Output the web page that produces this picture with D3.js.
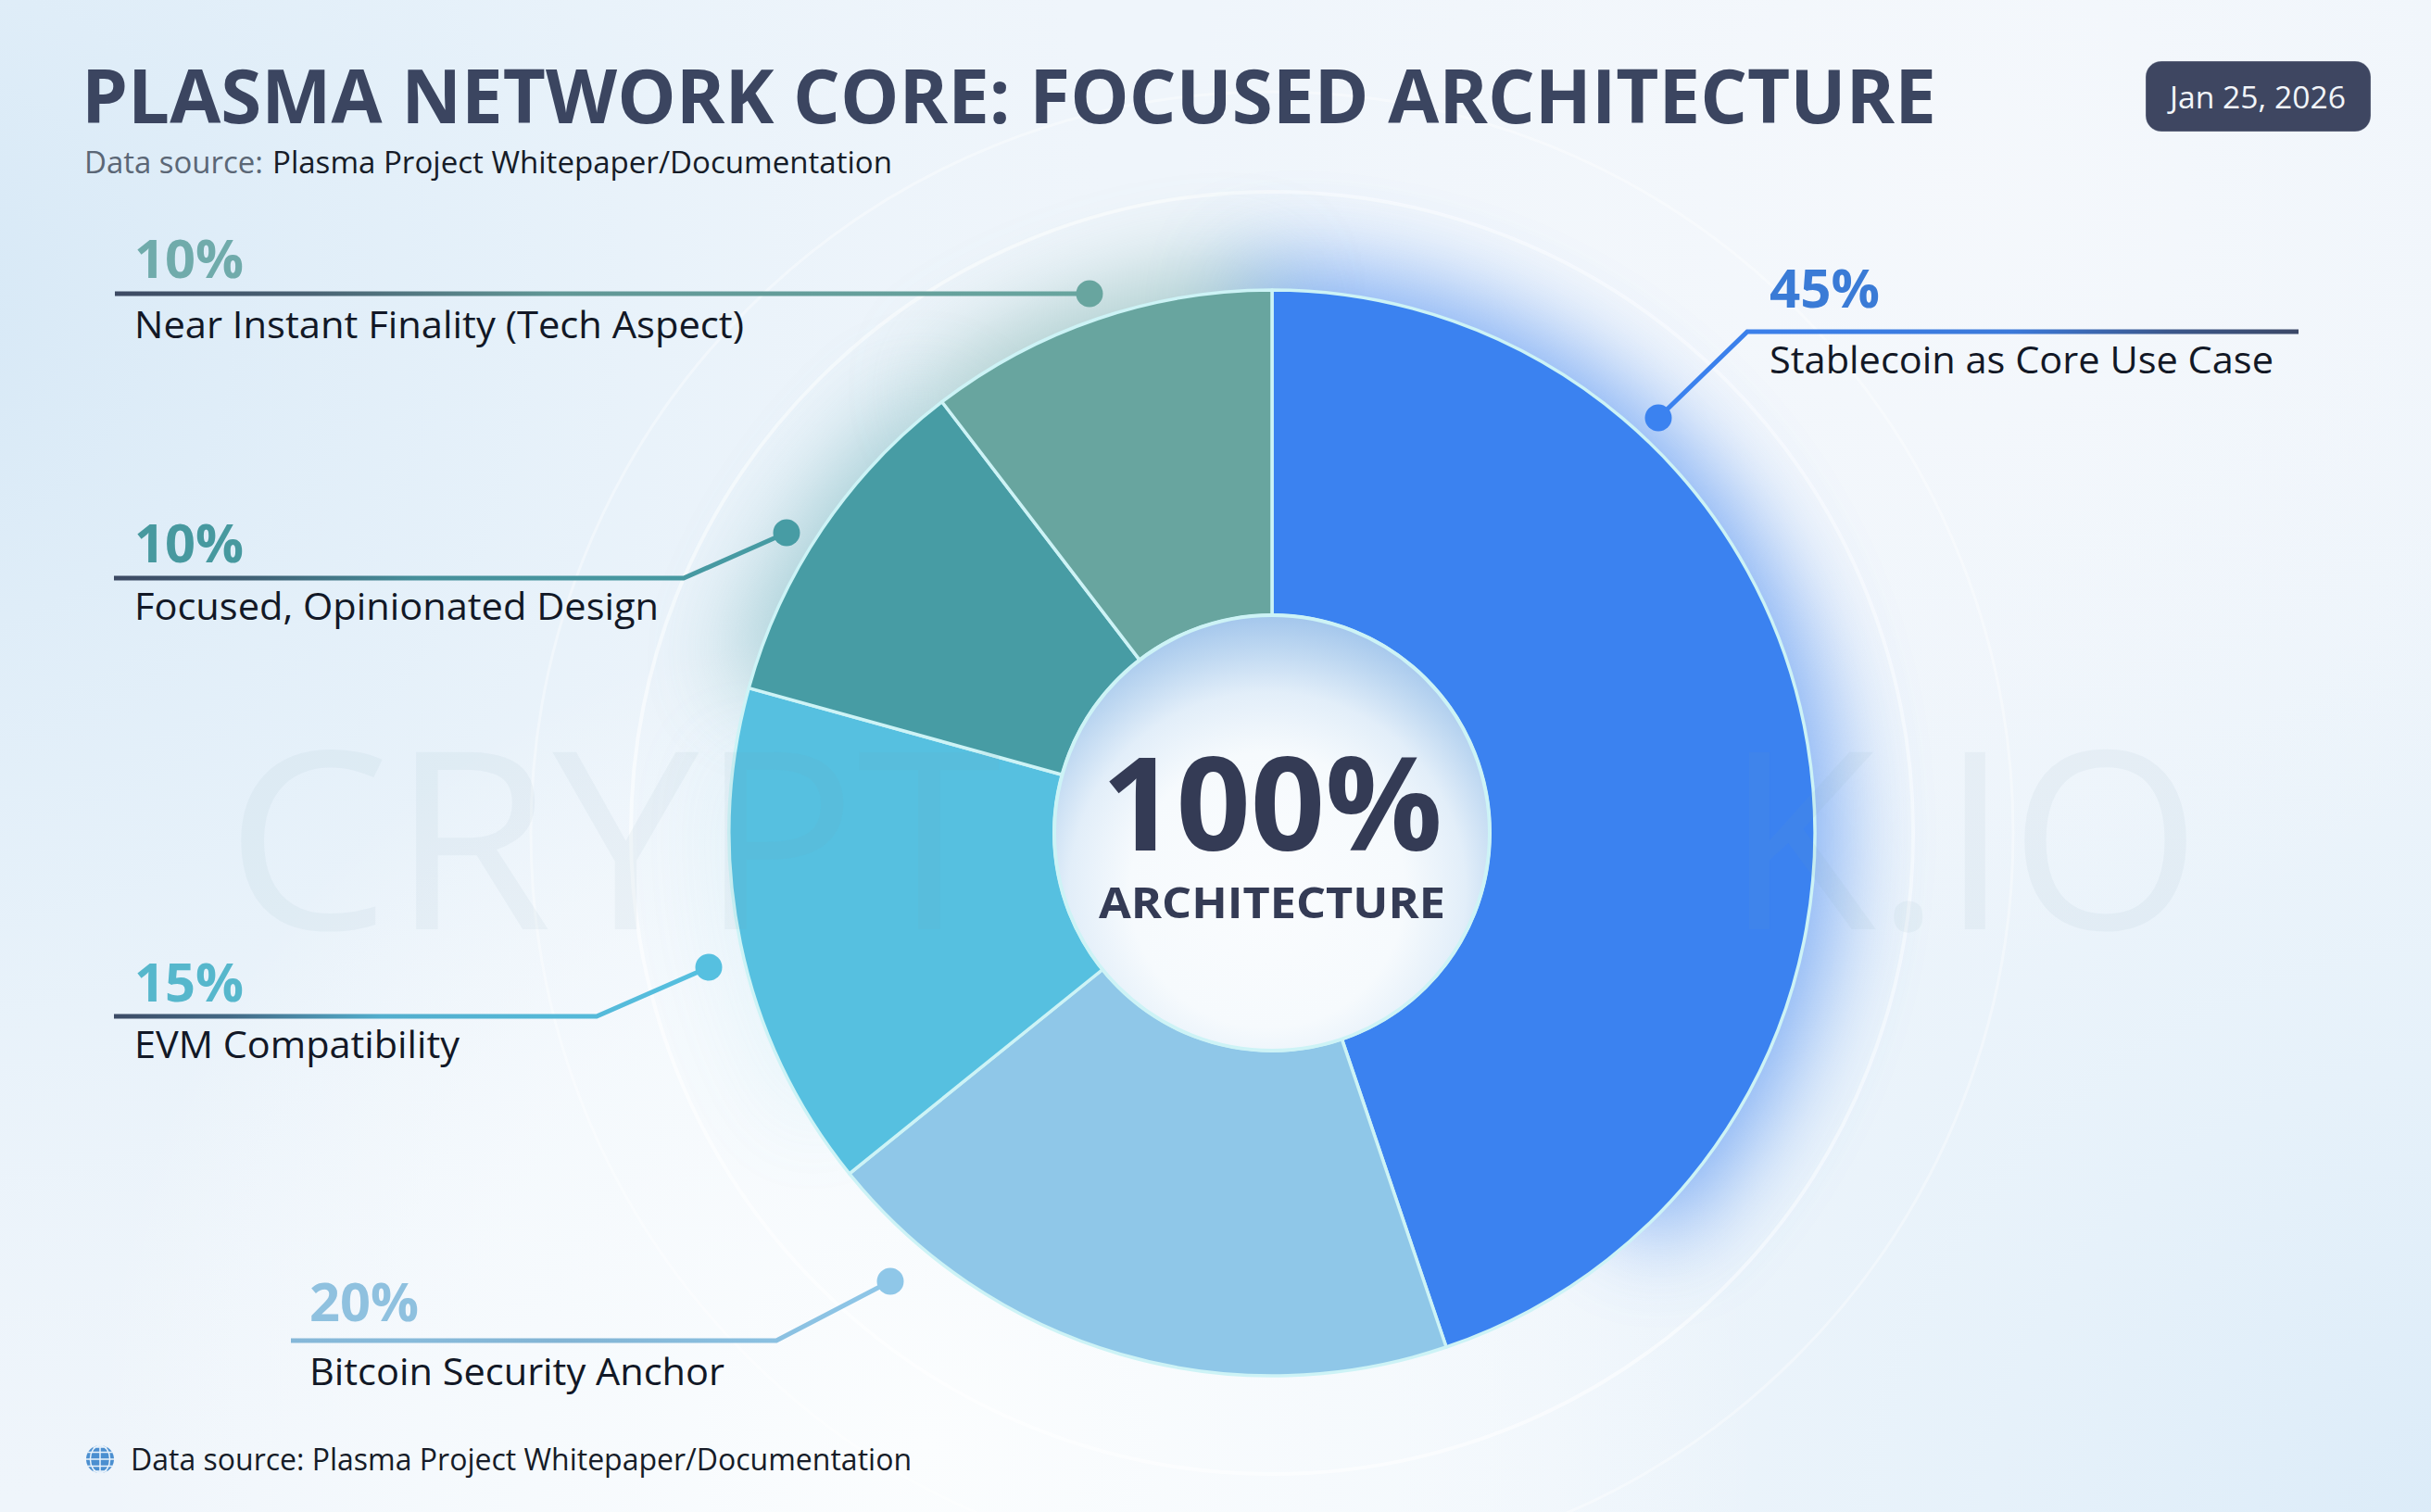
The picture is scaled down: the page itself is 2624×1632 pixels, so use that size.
<!DOCTYPE html>
<html><head><meta charset="utf-8">
<script src="https://cdn.jsdelivr.net/npm/d3@7/dist/d3.min.js"></script>
<style>html,body{margin:0;padding:0;background:#eef5fb}svg{display:block}text{font-family:"Open Sans",sans-serif}</style>
</head><body><div id="chart"></div>
<script>
// ---- data ----
const categories = ["Stablecoin as Core Use Case","Bitcoin Security Anchor","EVM Compatibility","Focused, Opinionated Design","Near Instant Finality (Tech Aspect)"];
const shares = [45,20,15,10,10];              // as printed on the labels
const drawnShares = [44.8,19.4,15.1,10.3,10.4]; // slice extents
const titleText = "PLASMA NETWORK CORE: FOCUSED ARCHITECTURE";
const sourceLead = "Data source:";
const sourceName = "Plasma Project Whitepaper/Documentation";
const dateText = "Jan 25, 2026";
const centerValue = "100%";
const centerLabel = "ARCHITECTURE";
const watermarkLeft = "CRYPT";
const watermarkRight = "K.IO";

// ---- styles and layout (kept apart from the data) ----
const W=2624,H=1632,cx=1373,cy=899,rOuter=586,rInner=235;
const sliceColors=["#3b82f0","#8fc7e8","#56c0e0","#479ca4","#68a59f"];
const textColors=["#3a7bd6","#8fc1df","#56b7cc","#47999f","#70abab"];
const glow=[.62,0,.08,.42,.5];
const glowTrim=[[-.06,-.42],[0,0],[.1,-.1],[0,0],[0,0]];
const ink="#3b4560", inkDark="#343b55";
const callouts=[
 {dot:[1790,451],elbow:[1886,358],end:[2481,358],x:1910,pctY:332,pctW:119,labY:403,labW:544},
 {dot:[961,1383],elbow:[838,1447],end:[314,1447],x:334,pctY:1426,pctW:118,labY:1495,labW:448},
 {dot:[765,1044],elbow:[644,1097],end:[123,1097],x:145,pctY:1081,pctW:118,labY:1142,labW:351},
 {dot:[849,575],elbow:[738,624],end:[123,624],x:145,pctY:607,pctW:118,labY:669,labW:566},
 {dot:[1176,317],elbow:[1176,317],end:[124,317],x:145,pctY:300,pctW:118,labY:365,labW:658}
];

const svg=d3.select("#chart").append("svg").attr("width",W).attr("height",H).attr("viewBox",`0 0 ${W} ${H}`);
const defs=svg.append("defs");

function radial(id,c,r,stops){
  const g=defs.append("radialGradient").attr("id",id).attr("gradientUnits","userSpaceOnUse")
    .attr("cx",c[0]).attr("cy",c[1]).attr("r",r);
  stops.forEach(s=>g.append("stop").attr("offset",s[0]).attr("stop-color",s[1]).attr("stop-opacity",s[2]));
}
// background layers
svg.append("rect").attr("width",W).attr("height",H).attr("fill","#eff5fb");
radial("bgL",[-100,330],1300,[[0,"#d6e8f6",1],[.5,"#e2eff9",.75],[1,"#eaf3fa",0]]);
radial("bgBR",[2700,1700],1350,[[0,"#d9eaf8",1],[.5,"#e5f1fa",.7],[1,"#eaf3fb",0]]);
radial("bgB",[1000,1560],900,[[0,"#fbfdfe",1],[.6,"#f9fcfe",.6],[1,"#fafcfe",0]]);
radial("bgT",[2100,200],850,[[0,"#f5f8fc",.95],[1,"#f5f8fc",0]]);
["bgL","bgBR","bgB","bgT"].forEach(id=>svg.append("rect").attr("width",W).attr("height",H).attr("fill",`url(#${id})`));

// faint rings
[[692,.55,4],[800,.38,3]].forEach(([r,o,w])=>svg.append("circle").attr("cx",cx).attr("cy",cy).attr("r",r)
  .attr("fill","none").attr("stroke","#ffffff").attr("stroke-opacity",o).attr("stroke-width",w));

// donut
const pieGen=d3.pie().sort(null).startAngle(0).endAngle(2*Math.PI)(drawnShares);
const arc=d3.arc().innerRadius(rInner).outerRadius(rOuter);
const donut=svg.append("g").attr("transform",`translate(${cx},${cy})`);
defs.append("filter").attr("id","blur").attr("x","-60%").attr("y","-60%").attr("width","220%").attr("height","220%")
  .attr("color-interpolation-filters","sRGB")
  .append("feGaussianBlur").attr("stdDeviation",48);
const glowArc=d3.arc().innerRadius(rInner).outerRadius(rOuter+26);
donut.selectAll("path.glow").data(pieGen).join("path").attr("class","glow")
  .attr("d",(d,i)=>glowArc({startAngle:d.startAngle+glowTrim[i][0],endAngle:d.endAngle+glowTrim[i][1]}))
  .attr("fill",(d,i)=>sliceColors[i]).attr("opacity",(d,i)=>glow[i]).attr("filter","url(#blur)");
donut.selectAll("path.slice").data(pieGen).join("path").attr("class","slice")
  .attr("d",arc).attr("fill",(d,i)=>sliceColors[i])
  .attr("stroke","#cdf3f6").attr("stroke-width",3.5).attr("stroke-linejoin","round");

// centre hole (gradient lies in the donut group's own coordinates)
const hole=defs.append("radialGradient").attr("id","hole").attr("gradientUnits","userSpaceOnUse")
  .attr("cx",-5).attr("cy",62).attr("r",rInner+62);
[[0,"#fafcfe"],[.5,"#f6fafd"],[.72,"#e2eef9"],[.88,"#bdd7f1"],[1,"#a3c6ec"]]
  .forEach(s=>hole.append("stop").attr("offset",s[0]).attr("stop-color",s[1]));
donut.append("circle").attr("r",rInner).attr("fill","url(#hole)").attr("stroke","#cdf3f6").attr("stroke-width",4);

const T=(sel,o)=>{const t=sel.append("text").text(o.t).attr("x",o.x).attr("y",o.y).attr("font-size",o.s)
  .attr("font-weight",o.w||400).attr("fill",o.f);
  if(o.l)t.attr("textLength",o.l).attr("lengthAdjust","spacingAndGlyphs");
  return t;};

// watermark: only the letters that can be read in the picture
[[watermarkLeft,243,838],[watermarkRight,1862,514]].forEach(([t,x,l])=>{
  T(svg,{t,x,y:1003,s:268,w:500,f:"#7f9bb2",l}).attr("fill-opacity",.075);
});

// centre text
T(svg,{t:centerValue,x:1189,y:918,s:140,w:700,f:inkDark,l:368});
T(svg,{t:centerLabel,x:1186,y:991,s:47,w:700,f:inkDark,l:374});

// header
T(svg,{t:titleText,x:88,y:133,s:80,w:700,f:ink,l:2002});
T(svg,{t:sourceLead,x:91,y:187,s:33,f:"#5b6776",l:193});
T(svg,{t:sourceName,x:294,y:187,s:33,f:"#161c28",l:669});
svg.append("rect").attr("x",2316).attr("y",66).attr("width",243).attr("height",76).attr("rx",17)
  .attr("fill","#3e4661").attr("stroke","#e3e8ef").attr("stroke-opacity",.35).attr("stroke-width",1);
T(svg,{t:dateText,x:2342,y:117,s:33,f:"#f2f5f9",l:190});

// callouts
const line=d3.line();
callouts.forEach((c,i)=>{
  const id="lead"+i;
  const g=defs.append("linearGradient").attr("id",id).attr("gradientUnits","userSpaceOnUse")
    .attr("x1",c.end[0]).attr("y1",c.end[1]).attr("x2",c.dot[0]).attr("y2",c.end[1]+.01);
  const mix=d3.interpolateRgb(sliceColors[i],ink);
  g.append("stop").attr("offset",0).attr("stop-color",mix(i===1?.12:.95));
  g.append("stop").attr("offset",.2).attr("stop-color",mix(i===1?.1:.7));
  g.append("stop").attr("offset",.45).attr("stop-color",mix(.15));
  g.append("stop").attr("offset",1).attr("stop-color",sliceColors[i]);
  svg.append("path").attr("d",line([c.end,c.elbow,c.dot])).attr("fill","none")
    .attr("stroke",`url(#${id})`).attr("stroke-width",5).attr("stroke-linejoin","miter");
  svg.append("circle").attr("cx",c.dot[0]).attr("cy",c.dot[1]).attr("r",14.5).attr("fill",sliceColors[i]);
  T(svg,{t:shares[i]+"%",x:c.x,y:c.pctY,s:58,w:700,f:textColors[i],l:c.pctW});
  T(svg,{t:categories[i],x:c.x,y:c.labY,s:40,f:"#121826",l:c.labW});
});

// footer with a small globe
const proj=d3.geoOrthographic().scale(15).translate([108,1575]).rotate([0,0]).clipAngle(90);
const gp=d3.geoPath(proj);
svg.append("path").attr("d",gp({type:"Sphere"})).attr("fill","#4b8fd0");
svg.append("path").attr("d",gp(d3.geoGraticule().step([45,30])())).attr("fill","none").attr("stroke","#eaf3fb").attr("stroke-width",1.5);
T(svg,{t:sourceLead+" "+sourceName,x:141,y:1587,s:33,f:"#161c28",l:843});
</script></body></html>
